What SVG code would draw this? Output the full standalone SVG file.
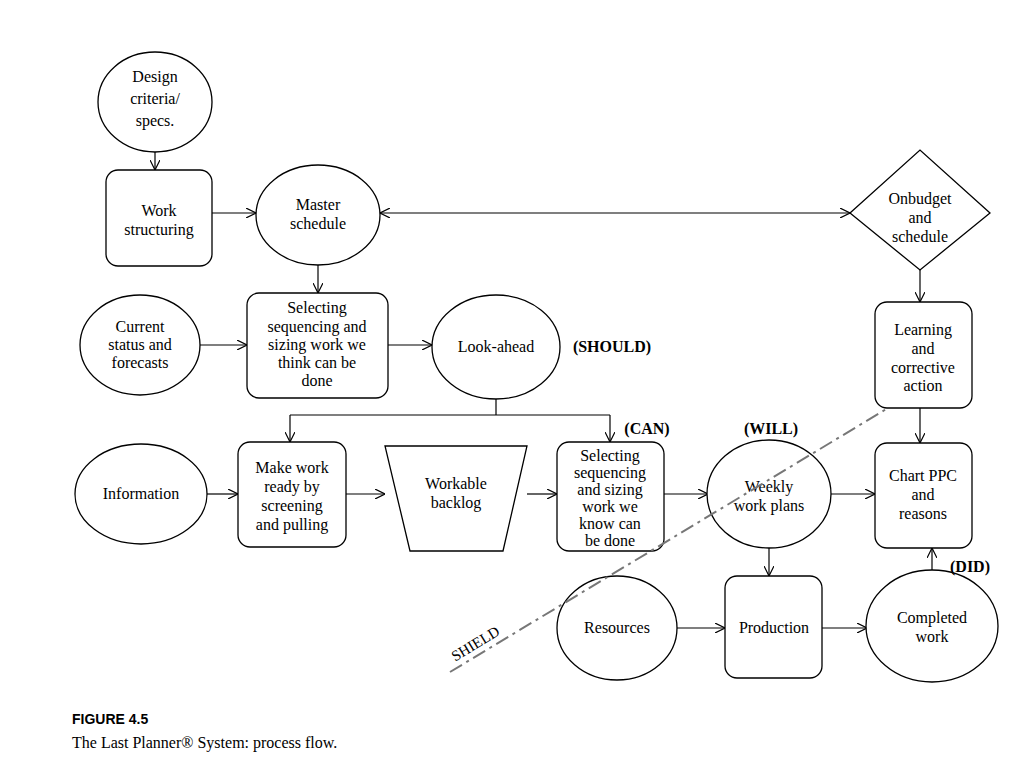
<svg xmlns="http://www.w3.org/2000/svg" width="1024" height="764" viewBox="0 0 1024 764">
<defs>
<marker id="a" viewBox="0 0 10 10" refX="10" refY="5" markerWidth="10" markerHeight="10" orient="auto-start-reverse" markerUnits="userSpaceOnUse"><path d="M0,0 L10,5 L0,10" fill="none" stroke="#000" stroke-width="1.2"/></marker>
</defs>
<style>
.s{fill:#fff;stroke:#000;stroke-width:1.3}
text{font-family:"Liberation Serif",serif;font-size:16px;text-anchor:middle;fill:#000}
.b{font-weight:bold}
.c line,.c path{stroke:#000;stroke-width:1.2;fill:none}
.c .m{marker-end:url(#a)}
</style>
<rect width="1024" height="764" fill="#fff"/>
<g class="c">
<line class="m" x1="155" y1="152" x2="155" y2="170"/>
<line class="m" x1="212" y1="213" x2="256" y2="213"/>
<line class="m" x1="380" y1="213" x2="850" y2="213" style="marker-start:url(#a)"/>
<line class="m" x1="920" y1="270" x2="920" y2="302"/>
<line class="m" x1="920" y1="408" x2="920" y2="443"/>
<line class="m" x1="318" y1="265" x2="318" y2="293"/>
<line class="m" x1="200" y1="345" x2="247" y2="345"/>
<line class="m" x1="388" y1="345" x2="432" y2="345"/>
<path d="M496,399 V415 M290,415 H610"/>
<line class="m" x1="290" y1="415" x2="290" y2="442"/>
<line class="m" x1="610" y1="415" x2="610" y2="442"/>
<line class="m" x1="207" y1="494" x2="238" y2="494"/>
<line class="m" x1="346" y1="494" x2="385" y2="494"/>
<line class="m" x1="527" y1="494" x2="557" y2="494"/>
<line class="m" x1="664" y1="494" x2="708" y2="494"/>
<line class="m" x1="831" y1="494" x2="875" y2="494"/>
<line class="m" x1="769" y1="548" x2="769" y2="576"/>
<line class="m" x1="677" y1="628" x2="725" y2="628"/>
<line class="m" x1="808" y1="628" x2="867" y2="628"/>
<line class="m" x1="932" y1="570" x2="932" y2="548"/>
</g>
<g id="design"><ellipse class="s" cx="155" cy="102" rx="57" ry="50"/><text x="155" y="82">Design</text><text x="155" y="104">criteria/</text><text x="155" y="126">specs.</text></g>
<g id="workstruct"><rect class="s" x="106" y="170" width="106" height="96" rx="12"/><text x="159" y="216">Work</text><text x="159" y="235">structuring</text></g>
<g id="master"><ellipse class="s" cx="318" cy="215" rx="62" ry="50"/><text x="318" y="210">Master</text><text x="318" y="229">schedule</text></g>
<g id="onbudget"><path class="s" d="M850,213 L920,150 L990,213 L920,270 Z"/><text x="920" y="204">Onbudget</text><text x="920" y="223">and</text><text x="920" y="242">schedule</text></g>
<g id="learning"><rect class="s" x="875" y="302" width="97" height="106" rx="12"/><text x="923" y="335">Learning</text><text x="923" y="354">and</text><text x="923" y="373">corrective</text><text x="923" y="391">action</text></g>
<g id="chart"><rect class="s" x="875" y="443" width="97" height="105" rx="12"/><text x="923" y="481">Chart PPC</text><text x="923" y="500">and</text><text x="923" y="519">reasons</text></g>
<g id="current"><ellipse class="s" cx="140" cy="345" rx="60" ry="50"/><text x="140" y="332">Current</text><text x="140" y="350">status and</text><text x="140" y="368">forecasts</text></g>
<g id="select1"><rect class="s" x="247" y="293" width="141" height="105" rx="12"/><text x="317" y="313">Selecting</text><text x="317" y="332">sequencing and</text><text x="317" y="350">sizing work we</text><text x="317" y="368">think can be</text><text x="317" y="386">done</text></g>
<g id="lookahead"><ellipse class="s" cx="496" cy="347" rx="64" ry="52"/><text x="496" y="352">Look-ahead</text><text class="b" x="612" y="352">(SHOULD)</text></g>
<g id="information"><ellipse class="s" cx="141" cy="494" rx="66" ry="50"/><text x="141" y="499">Information</text></g>
<g id="makeready"><rect class="s" x="238" y="442" width="108" height="105" rx="12"/><text x="292" y="473">Make work</text><text x="292" y="492">ready by</text><text x="292" y="511">screening</text><text x="292" y="530">and pulling</text></g>
<g id="backlog"><path class="s" d="M385,446 H527 L503,551 H410 Z"/><text x="456" y="489">Workable</text><text x="456" y="508">backlog</text></g>
<g id="select2"><rect class="s" x="557" y="442" width="107" height="109" rx="12"/><text x="610" y="461">Selecting</text><text x="610" y="478">sequencing</text><text x="610" y="495">and sizing</text><text x="610" y="512">work we</text><text x="610" y="529">know can</text><text x="610" y="546">be done</text><text class="b" x="647" y="434">(CAN)</text></g>
<g id="weekly"><ellipse class="s" cx="769" cy="494" rx="62" ry="54"/><text x="769" y="492">Weekly</text><text x="769" y="511">work plans</text><text class="b" x="771" y="434">(WILL)</text></g>
<g id="resources"><ellipse class="s" cx="617" cy="628" rx="60" ry="52"/><text x="617" y="633">Resources</text></g>
<g id="production"><rect class="s" x="725" y="576" width="97" height="102" rx="12"/><text x="774" y="633">Production</text></g>
<g id="completed"><ellipse class="s" cx="932" cy="626" rx="66" ry="56"/><text x="932" y="623">Completed</text><text x="932" y="642">work</text><text class="b" x="970" y="572">(DID)</text></g>
<g id="shield"><line x1="450" y1="672" x2="888" y2="408" stroke="#777" stroke-width="2" stroke-dasharray="14,5,3,5"/><text x="478" y="648" transform="rotate(-31 478 648)" style="font-size:15px">SHIELD</text></g>
<g id="caption"><text class="b" x="72" y="724" style="text-anchor:start;font-family:'Liberation Sans',sans-serif;font-size:14px">FIGURE 4.5</text><text x="72" y="748" style="text-anchor:start;font-size:16px">The Last Planner® System: process flow.</text></g>
</svg>
